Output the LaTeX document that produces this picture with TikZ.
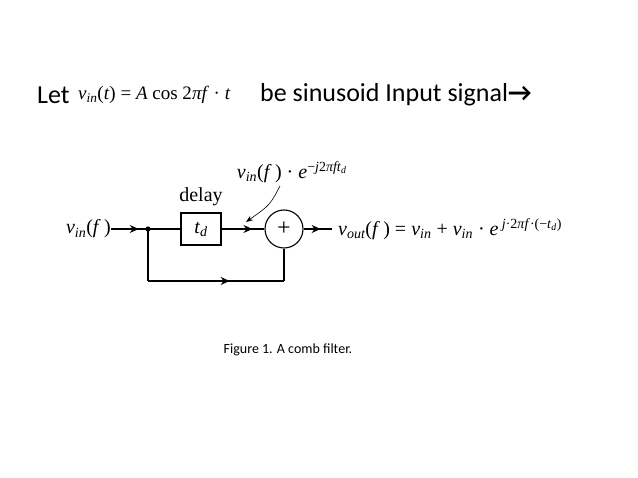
\documentclass[tikz,border=0pt]{standalone}
\usepackage{fontspec}
\setmainfont{Carlito}
\newfontfamily\tms{Liberation Serif}
\usetikzlibrary{decorations.markings,arrows.meta,positioning}
\newcommand{\vi}[1]{\textit{v\textsubscript{#1}}}
\begin{document}
\begin{tikzpicture}[x=1pt,y=-1pt,
  wire/.style={line width=1.1pt},
  mid/.style={wire,postaction={decorate},decoration={markings,mark=at position #1 with {\arrow{Stealth[length=9pt,width=8pt,inset=3pt]}}}},
  mt/.style={font=\tms\fontsize{20}{20}\selectfont,inner sep=0pt}]
\useasboundingbox (0,0) rectangle (638,478);
\node[anchor=west,font=\fontsize{26}{30}\selectfont,inner sep=0] (let) at (37,95) {Let};
\node[anchor=west,font=\tms\fontsize{19}{20}\selectfont,inner sep=0] (eq) at (78,95) {\vi{in}(\textit{t}) = \textit{A} cos 2\textit{πf} · \textit{t}};
\node[anchor=west,font=\fontsize{26}{30}\selectfont,inner sep=0] (be) at (260,95) {be sinusoid Input signal\textbf{→}};
\node[mt,anchor=east] (vin) at (111,229) {\vi{in}(\textit{f}\,)};
\coordinate (sp) at (148,229);
\node[draw,line width=1.1pt,minimum width=40pt,minimum height=32pt,inner sep=0,font=\tms\fontsize{20}{20}\selectfont] (box) at (201,229) {\textit{t\textsubscript{d}}};
\node[mt,above=6pt of box.north,anchor=south] (delay) {delay};
\node[draw,circle,line width=1.1pt,minimum size=38pt,inner sep=0,font=\tms\fontsize{24}{24}\selectfont] (sum) at (284,229) {+};
\coordinate (out) at (332,229);
\node[mt,anchor=west] (vout) at (338,229) {\vi{out}(\textit{f}\,) = \vi{in} + \vi{in} · \textit{e}\,\textsuperscript{\textit{j}·2\textit{πf}·(−\textit{t}\textsubscript{\textit{d}})}};
\node[mt,anchor=center] (lab) at (292,172) {\vi{in}(\textit{f}\,) · \textit{e}\textsuperscript{−\textit{j}2\textit{πft}\textsubscript{\textit{d}}}};
\coordinate (bl) at (148,281);
\coordinate (br) at (284,281);
\coordinate (tip) at (246,222);
\draw[mid=0.75] (vin.east) -- (sp);
\fill (sp) circle (2.6pt);
\draw[wire] (sp) -- (box.west);
\draw[mid=0.72] (box.east) -- (sum.west);
\draw[mid=0.6] (sum.east) -- (out);
\draw[wire] (sp) -- (bl);
\draw[mid=0.6] (bl) -- (br);
\draw[wire] (br) -- (sum.south);
\draw[-{Stealth[length=7pt]},line width=0.6pt] (280,186) .. controls (270,205) .. (tip);
\node[anchor=center,font=\fontsize{14}{16}\selectfont] (cap) at (288,350) {Figure 1. A comb filter.};
\end{tikzpicture}
\end{document}
